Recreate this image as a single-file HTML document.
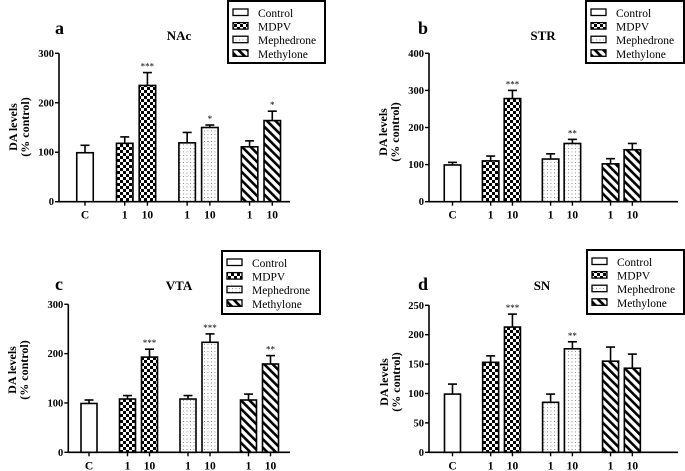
<!DOCTYPE html>
<html><head><meta charset="utf-8">
<style>
html,body{margin:0;padding:0;background:#fff;}
svg{display:block;}
svg text{font-family:"Liberation Serif","DejaVu Serif",serif;}
</style></head>
<body>
<svg id="fig" width="685" height="471" viewBox="0 0 685 471">
<defs>
<pattern id="pat-check" width="6" height="6" patternUnits="userSpaceOnUse">
<rect width="6" height="6" fill="#fff"/><rect width="3" height="3" fill="#000"/><rect x="3" y="3" width="3" height="3" fill="#000"/>
</pattern>
<pattern id="pat-dot" width="3.5" height="3.5" patternUnits="userSpaceOnUse">
<rect width="3.5" height="3.5" fill="#fff"/><rect x="1" y="1" width="0.9" height="0.9" fill="#777"/>
</pattern>
<pattern id="pat-stripe" width="6" height="6" patternUnits="userSpaceOnUse" patternTransform="rotate(-45)">
<rect width="6" height="6" fill="#fff"/><rect width="2.6" height="6" fill="#000"/>
</pattern>
</defs>
</svg>
<script>
// Chart data
const categories = ["C","1","10","1","10","1","10"];
const seriesNames = ["Control","MDPV","Mephedrone","Methylone"];
const barSeries = [0,1,1,2,2,3,3];
const panelLetters = ["a","b","c","d"];
const regionNames = ["NAc","STR","VTA","SN"];
const yMaxes = [300,400,300,250];
const yTickLabelsA = [0,100,200,300];
const yTickLabelsB = [0,100,200,300,400];
const yTickLabelsC = [0,100,200,300];
const yTickLabelsD = [0,50,100,150,200,250];
const valuesA = [99,118,235,119,150,111,164];
const errorsA = [15,13,26,21,5,12,19];
const valuesB = [99,110,278,115,157,102,140];
const errorsB = [7,13,22,14,11,14,17];
const valuesC = [99,108,193,108,223,106,179];
const errorsC = [7,7,16,7,17,12,17];
const valuesD = [99,153,213,85,176,155,143];
const errorsD = [17,11,22,14,12,24,24];
const starsA = ["","","***","","*","","*"];
const starsB = ["","","***","","**","",""];
const starsC = ["","","***","","***","","**"];
const starsD = ["","","***","","**","",""];

const FONT = '"Liberation Serif", "DejaVu Serif", serif';
const fills = ["#fff","url(#pat-check)","url(#pat-dot)","url(#pat-stripe)"];
const slot = [0,1.75,2.75,4.5,5.5,7.25,8.25];
const NS = "http://www.w3.org/2000/svg";
const svg = document.getElementById("fig");
function mk(tag, attrs, parent, text){
  const e = document.createElementNS(NS, tag);
  for (const k in attrs) e.setAttribute(k, attrs[k]);
  if (tag === "text") e.setAttribute("font-family", FONT);
  if (text !== undefined) e.textContent = text;
  (parent||svg).appendChild(e);
  return e;
}
const layouts = [
  {ax:59, x1:290, y0:201.7, yTop:53.3, start:85, step:22.7, bw:16.5, legX:228, legY:1, legW:97, legH:62, titleX:55, titleY:34, nameX:179, nameY:40, labX:13, labY:127},
  {ax:429, x1:678, y0:201.7, yTop:53.3, start:452.5, step:21.8, bw:16.5, legX:586, legY:1, legW:98, legH:62, titleX:418, titleY:34, nameX:543, nameY:40, labX:383, labY:132},
  {ax:68.3, x1:290, y0:452.3, yTop:304.3, start:89, step:22, bw:16, legX:222, legY:251, legW:98, legH:63, titleX:55, titleY:290, nameX:179, nameY:290, labX:12, labY:370},
  {ax:429, x1:678, y0:452.3, yTop:305.3, start:452.5, step:21.8, bw:16, legX:587, legY:250, legW:97, legH:64, titleX:418, titleY:290, nameX:542, nameY:290, labX:384, labY:382}
];
const allVals = [valuesA,valuesB,valuesC,valuesD];
const allErrs = [errorsA,errorsB,errorsC,errorsD];
const allStars = [starsA,starsB,starsC,starsD];
const allTicks = [yTickLabelsA,yTickLabelsB,yTickLabelsC,yTickLabelsD];

layouts.forEach((L, p) => {
  const g = mk("g", {});
  
  
  const yS = v => L.y0 - v / yMaxes[p] * (L.y0 - L.yTop);
  const xS = i => L.start + slot[i] * L.step;
  const t = mk("text", {x:L.titleX, y:L.titleY, "font-size":18, "font-weight":"bold"}, g, panelLetters[p]);
  
  
  const nm = mk("text", {x:L.nameX, y:L.nameY, "font-size":13, "font-weight":"bold", "text-anchor":"middle"}, g, regionNames[p]);
  
  
  const yl = mk("text", {transform:`translate(${L.labX},${L.labY}) rotate(-90)`, "font-size":12, "font-weight":"bold", "text-anchor":"middle"}, g);
  
  
  mk("tspan", {x:0, dy:4}, yl, "DA levels");
  mk("tspan", {x:0, dy:12}, yl, "(% control)");
  const ya = mk("line", {x1:L.ax, y1:L.yTop, x2:L.ax, y2:L.y0, stroke:"#000", "stroke-width":1.6}, g);
  
  
  const xa = mk("line", {x1:L.ax, y1:L.y0, x2:L.x1, y2:L.y0, stroke:"#000", "stroke-width":1.6}, g);
  
  
  allTicks[p].forEach(v => {
    mk("line", {x1:L.ax-4, y1:yS(v), x2:L.ax, y2:yS(v), stroke:"#000", "stroke-width":1.4}, g);
    const tl = mk("text", {x:L.ax-5, y:yS(v)+3.5, "font-size":10.5, "font-weight":"bold", "text-anchor":"end"}, g, String(v));
    
    
  });
  allVals[p].forEach((v, i) => {
    const cx = xS(i), top = yS(v), et = yS(v + allErrs[p][i]);
    mk("line", {x1:cx, y1:et, x2:cx, y2:top, stroke:"#000", "stroke-width":1.6}, g);
    mk("line", {x1:cx-4.5, y1:et, x2:cx+4.5, y2:et, stroke:"#000", "stroke-width":1.6}, g);
    const b = mk("rect", {x:cx-L.bw/2, y:top, width:L.bw, height:L.y0-top, fill:fills[barSeries[i]], stroke:"#000", "stroke-width":1.6}, g);
    
    
    mk("line", {x1:cx, y1:L.y0, x2:cx, y2:L.y0+4, stroke:"#000", "stroke-width":1.4}, g);
    const xl = mk("text", {x:cx, y:L.y0+17, "font-size":11.5, "font-weight":"bold", "text-anchor":"middle"}, g, categories[i]);
    
    
    if (allStars[p][i]) {
      const s = mk("text", {x:cx, y:et-3, "font-size":9, "text-anchor":"middle"}, g, allStars[p][i]);
      
      
    }
  });
  const lg = mk("g", {}, g);
  
  
  mk("rect", {x:L.legX, y:L.legY, width:L.legW, height:L.legH, fill:"#fff", stroke:"#000", "stroke-width":2}, lg);
  seriesNames.forEach((n, k) => {
    const ry = L.legY + 12.5 + k * 13.6;
    const en = mk("g", {}, lg);
    
    
    mk("rect", {x:L.legX+5, y:ry-4.5, width:15, height:6.5, fill:fills[k], stroke:"#000", "stroke-width":1.3}, en);
    mk("text", {x:L.legX+30, y:ry+3.5, "font-size":11.5}, en, n);
  });
});
</script>
</body></html>
